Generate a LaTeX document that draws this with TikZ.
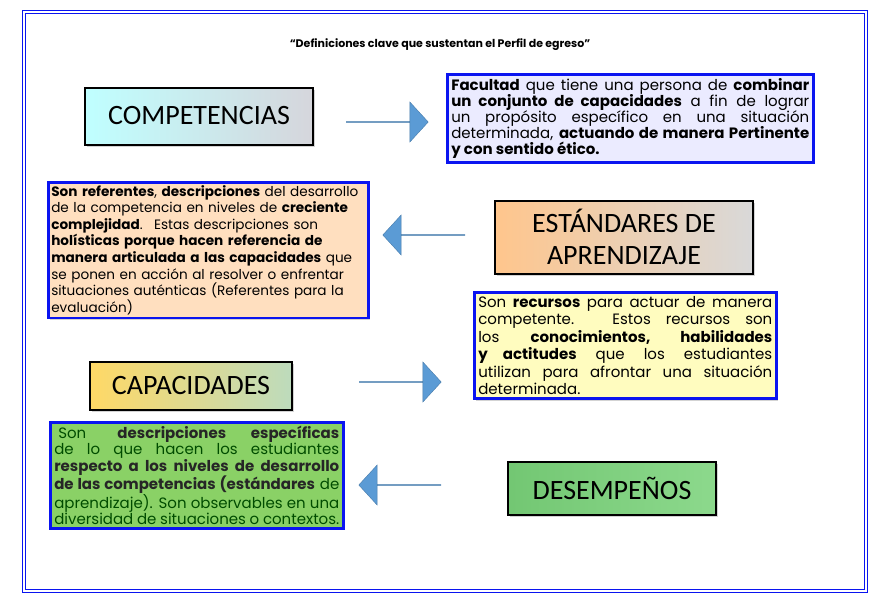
\documentclass[tikz,border=0pt]{standalone}
\usepackage{fontspec}
\setmainfont{Poppins}
\newfontfamily\calfont{Carlito}
\usetikzlibrary{shapes.arrows,shadows}
\definecolor{bblue}{HTML}{0A14F0}
\definecolor{arr}{HTML}{5B9BD5}
\newcommand\nohy{\hyphenpenalty=10000\exhyphenpenalty=10000\emergencystretch=3em}
\tikzset{
 title/.style={draw=black,line width=2pt,minimum height=#1,font=\calfont\fontsize{28}{30}\selectfont,inner sep=0pt, drop shadow={opacity=0.35,shadow xshift=2pt,shadow yshift=-2pt}},
 desc/.style={draw=bblue,line width=2.6pt,inner sep=4pt,anchor=north west,align=justify,drop shadow={opacity=0.35,shadow xshift=2pt,shadow yshift=-2pt}},
 barrow/.style={single arrow,fill=arr,draw=arr!80!black,line width=0.4pt,minimum height=82pt,minimum width=40pt,single arrow head extend=9pt,inner sep=0pt,single arrow tip angle=95},
}
\begin{document}
\begin{tikzpicture}[x=1pt,y=-1pt]
\useasboundingbox (0,0) rectangle (870,595);
\draw[bblue,line width=0.6pt] (22,10) rectangle (867,592);
\draw[bblue,line width=0.6pt] (25,13) rectangle (864,589);
\node[font=\bfseries\fontsize{11}{13}\selectfont] (t) at (440,45) {“Definiciones clave que sustentan el Perfil de egreso”};

\node[title=57pt,minimum width=228pt,left color=cyan!25!white,right color=blue!8!gray!30!white] (comp) at (199,116) {COMPETENCIAS};
\node[barrow] (a1) at (387,122) {};
\node[desc,fill=blue!8!white,text width=358pt,font=\nohy\fontsize{15}{16}\selectfont] (d1) at (446,73) {\textbf{Facultad} que tiene una persona de \textbf{combinar un conjunto de capacidades} a fin de lograr un propósito específico en una situación determinada, \textbf{actuando de manera Pertinente y con sentido ético.}};

\node[desc,fill=orange!25!white,text width=314pt,align=left,font=\nohy\fontsize{13.6}{16.6}\selectfont,inner sep=3pt] (d2) at (47,181) {\textbf{Son referentes}, \textbf{descripciones} del desarrollo de la competencia en niveles de \textbf{creciente complejidad}.~ Estas descripciones son \textbf{holísticas porque hacen referencia de manera articulada a las capacidades} que se ponen en acción al resolver o enfrentar situaciones auténticas (Referentes para la evaluación)};
\node[barrow,shape border rotate=180] (a2) at (424,235) {};
\node[title=73pt,minimum width=258pt,align=center,left color=orange!45!white,right color=gray!30!white,font=\calfont\fontsize{28}{32}\selectfont] (est) at (624,237) {ESTÁNDARES DE\\APRENDIZAJE};

\node[desc,fill=yellow!25!white,text width=294pt,font=\nohy\fontsize{15}{17.4}\selectfont] (d3) at (473,291) {Son \textbf{recursos} para actuar de manera competente. Estos recursos son los \textbf{conocimientos, habilidades y actitudes} que los estudiantes utilizan para afrontar una situación determinada.};

\node[title=48pt,minimum width=202pt,left color=orange!50!yellow!60!white,right color=green!30!gray!40!white] (cap) at (191,386) {CAPACIDADES};
\node[barrow] (a3) at (400,382) {};

\node[desc,fill=green!55!lime!70!black!60!white,text width=285pt,font=\nohy\fontsize{15}{15.5}\selectfont,text=black!70!green] (d4) at (49,421) {\hspace{4pt}Son \textbf{\color{black!85}descripciones específicas} de lo que hacen los estudiantes \textbf{\color{black!85}respecto a los niveles de desarrollo de las competencias (estándares} de aprendizaje). Son observables en una diversidad de situaciones o contextos.};
\node[barrow,shape border rotate=180] (a4) at (400,485) {};
\node[title=53pt,minimum width=208pt,left color=green!60!black!55!white,right color=green!50!gray!60!white] (des) at (612,488) {DESEMPEÑOS};
\end{tikzpicture}
\end{document}
